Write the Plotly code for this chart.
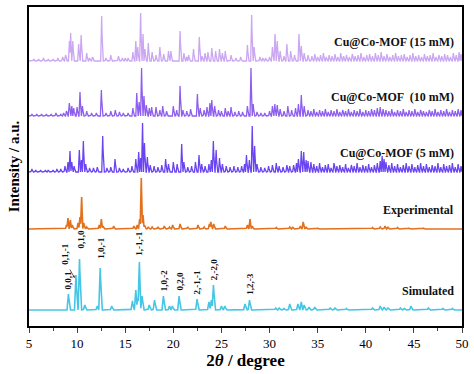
import numpy as np
import plotly.graph_objects as go

# ---------------- data ----------------
# peak positions (2theta, degree) and heights (a.u., px-scale) for each pattern
sim_pos = [9.1, 9.88, 10.25, 10.8, 12.1, 12.4, 13.6, 15.75, 16.1, 16.3, 16.47, 16.75, 17.5, 18.05,
           18.97, 19.6, 19.9, 20.6, 22.47, 23.7, 23.95, 24.17, 25.0, 25.35, 27.45, 27.92, 30.65,
           31.0, 31.5, 32.1, 32.95, 33.3, 33.6, 34.1, 34.7, 36.3, 36.8, 38.0, 40.7, 41.5, 41.9,
           42.3, 43.6, 44.0, 44.7, 46.5, 48.0, 49.0]
sim_h = [16, 35, 51, 5, 4, 42, 4, 9, 20, 12, 48, 14, 5, 10,
         14, 4, 4, 14, 11, 8, 10, 25, 4, 4, 6, 10, 2,
         2, 1.5, 6, 6, 8, 5, 3, 3, 2, 2, 1.5, 2, 4, 3,
         2, 2, 1.5, 4, 2, 1.5, 1.5]

exp_pos = [8.9, 9.05, 9.3, 9.5, 10.1, 10.3, 10.47, 10.7, 11.0, 12.3, 12.52, 12.7, 13.8, 15.9,
           16.25, 16.5, 16.67, 16.85, 17.0, 17.4, 17.8, 18.4, 19.06, 19.6, 19.93, 20.7, 21.5,
           22.56, 23.2, 23.75, 23.9, 24.2, 25.4, 27.7, 27.97, 28.2, 30.7, 32.1, 32.4, 33.2,
           33.5, 33.8, 35.0, 40.7, 41.5, 42.0, 42.3, 43.3, 44.5, 46.0]
exp_h = [4, 11, 9, 4, 6, 12, 32, 6, 2, 4, 10, 3, 3, 3,
         4, 10, 51, 14, 4, 2, 2, 2, 3, 2, 4, 5, 2,
         4, 2, 5, 7, 5, 3, 4, 10, 3, 1.5, 2, 2, 3,
         7, 2, 1, 1.5, 2, 3, 2, 1.5, 1, 1]

mof5_pos = [5.3, 5.7, 6.2, 6.7, 7.0, 7.5, 7.9, 8.3, 8.74, 9.05, 9.26, 9.45, 9.7, 10.23, 10.45,
            10.65, 10.9, 11.3, 11.7, 12.1, 12.66, 13.1, 13.5, 13.94, 14.4, 14.8, 15.3, 15.7,
            16.1, 16.4, 16.6, 16.8, 17.0, 17.3, 17.6, 18.0, 18.4, 18.8, 19.2, 19.5, 20.0,
            20.4, 20.87, 21.1, 21.5, 21.9, 22.3, 22.67, 22.95, 23.3, 23.7, 23.95, 24.16,
            24.45, 24.8, 25.1, 25.5, 25.9, 26.3, 26.7, 27.1, 27.4, 27.6, 27.9, 28.2, 28.45,
            28.7, 29.1, 29.5, 29.9, 30.3, 30.7, 31.0, 31.4, 31.8, 32.1, 32.5, 32.8, 33.0,
            33.3, 33.55, 33.8, 34.0, 34.3, 34.6, 34.9, 35.2, 35.5, 35.8, 36.1, 36.4, 36.7,
            37.0, 37.3, 37.6, 37.9, 38.2, 38.5, 38.8, 39.1, 39.4, 39.7, 40.0, 40.3, 40.6,
            40.9, 41.2, 41.5, 41.7, 41.9, 42.1, 42.4, 42.7, 43.0, 43.3, 43.6, 43.9, 44.2,
            44.5, 44.8, 45.1, 45.4, 45.7, 46.0, 46.3, 46.6, 46.9, 47.2, 47.5, 47.8, 48.1,
            48.4, 48.7, 49.0, 49.3, 49.6, 49.9]
mof5_h = [3, 2, 2, 2, 2, 2, 3, 3, 6, 10, 21, 10, 6, 22, 12,
          31, 8, 4, 4, 5, 36, 4, 5, 13, 4, 3, 4, 6,
          13, 20, 14, 49, 29, 15, 7, 6, 5, 7, 13, 8, 10,
          8, 28, 10, 5, 6, 10, 17, 8, 6, 8, 12, 31,
          22, 14, 8, 6, 5, 6, 5, 6, 8, 17, 12, 46, 26,
          8, 5, 4, 6, 7, 9, 6, 5, 7, 6, 7, 9, 13,
          21, 20, 12, 11, 10, 8, 6, 9, 5, 7, 8, 4, 9,
          6, 7, 5, 8, 4, 7, 6, 9, 5, 7, 6, 8, 5,
          7, 9, 11, 16, 13, 10, 7, 9, 6, 8, 5, 7, 9,
          6, 8, 5, 7, 9, 6, 8, 5, 7, 6, 9, 5, 8,
          6, 7, 9, 5, 8, 6]

mof10_pos = [5.3, 5.8, 6.3, 6.8, 7.3, 7.8, 8.3, 8.6, 8.9, 9.19, 9.45, 9.65, 10.0, 10.3, 10.55,
             11.0, 11.5, 12.0, 12.52, 13.0, 13.5, 13.97, 14.4, 14.8, 15.3, 15.8, 16.2, 16.45,
             16.7, 16.95, 17.2, 17.5, 17.75, 18.2, 18.6, 18.9, 19.3, 20.0, 20.35, 20.7, 21.0,
             21.4, 21.8, 22.5, 22.8, 23.2, 23.5, 23.8, 24.0, 24.3, 24.7, 25.0, 25.4, 25.7,
             26.0, 26.4, 26.8, 27.2, 27.7, 28.07, 28.3, 28.7, 29.1, 29.5, 30.0, 30.3, 30.55,
             30.8, 31.1, 31.5, 31.9, 32.3, 32.7, 33.0, 33.3, 33.6, 34.0, 34.3, 34.6, 34.9,
             35.2, 35.5, 35.8, 36.1, 36.4, 36.7, 37.0, 37.3, 37.6, 37.9, 38.2, 38.5, 38.8,
             39.1, 39.4, 39.7, 40.0, 40.3, 40.6, 40.9, 41.2, 41.5, 41.8, 42.1, 42.4, 42.7,
             43.0, 43.3, 43.6, 43.9, 44.2, 44.5, 44.8, 45.1, 45.4, 45.7, 46.0, 46.3, 46.6,
             46.9, 47.2, 47.5, 47.8, 48.1, 48.4, 48.7, 49.0, 49.3, 49.6, 49.9]
mof10_h = [2, 2, 2, 2, 2, 3, 2, 3, 5, 13, 10, 8, 9, 24, 10,
           5, 3, 3, 26, 3, 5, 6, 4, 3, 3, 8, 23, 14,
           48, 20, 11, 8, 9, 9, 6, 10, 5, 10, 6, 30, 6,
           5, 7, 22, 8, 6, 9, 13, 16, 10, 6, 5, 8, 5,
           9, 4, 5, 4, 10, 48, 12, 4, 3, 3, 5, 10, 12,
           11, 7, 5, 10, 6, 8, 12, 21, 10, 6, 5, 7, 4,
           6, 5, 7, 4, 6, 5, 7, 4, 6, 5, 7, 4, 6,
           5, 7, 4, 6, 5, 7, 6, 8, 9, 7, 6, 5, 7,
           4, 6, 5, 7, 4, 6, 5, 7, 4, 6, 5, 4, 6,
           5, 7, 4, 6, 5, 7, 4, 6, 5, 7, 6]

mof15_pos = [5.5, 6.0, 6.5, 7.0, 7.5, 8.0, 8.5, 8.8, 9.2, 9.33, 9.55, 10.16, 10.42, 11.0, 11.3,
             11.6, 12.55, 13.0, 13.5, 14.3, 14.7, 15.0, 15.3, 15.8, 16.1, 16.3, 16.6, 16.85,
             17.05, 17.4, 17.8, 18.2, 18.6, 19.0, 19.5, 19.75, 20.7, 21.1, 21.4, 21.6, 22.1,
             22.7, 23.0, 23.3, 23.6, 24.0, 24.4, 24.8, 25.1, 25.4, 26.0, 26.5, 27.0, 27.7,
             28.14, 28.4, 29.0, 29.3, 29.6, 30.0, 30.3, 30.57, 30.8, 31.1, 31.5, 31.8, 32.2,
             32.6, 33.06, 33.3, 33.6, 34.0, 34.4, 34.7, 35.0, 35.3, 35.6, 35.9, 36.2, 36.5,
             36.8, 37.1, 37.4, 37.7, 38.0, 38.3, 38.6, 38.9, 39.2, 39.5, 39.8, 40.1, 40.4,
             40.7, 41.0, 41.3, 41.6, 41.9, 42.2, 42.5, 42.8, 43.1, 43.4, 43.7, 44.0, 44.3,
             44.6, 44.9, 45.2, 45.5, 45.8, 46.1, 46.4, 46.7, 47.0, 47.3, 47.6, 47.9, 48.2,
             48.5, 48.8, 49.1, 49.4, 49.7, 49.9]
mof15_h = [2, 2, 3, 2, 2, 3, 4, 6, 20, 28, 20, 17, 26, 8, 3,
           4, 45, 3, 6, 5, 3, 3, 3, 9, 20, 14, 48, 27,
           12, 18, 9, 6, 14, 7, 10, 10, 30, 8, 4, 6, 12,
           24, 5, 8, 9, 13, 10, 12, 8, 10, 6, 3, 4, 16,
           46, 14, 4, 3, 3, 4, 14, 27, 20, 10, 5, 17, 10,
           6, 27, 15, 8, 6, 5, 7, 4, 6, 8, 4, 6, 5,
           7, 4, 8, 5, 6, 4, 7, 5, 6, 8, 4, 6, 7,
           5, 8, 6, 9, 5, 7, 4, 6, 8, 5, 6, 7, 4,
           6, 8, 5, 6, 4, 7, 5, 6, 8, 4, 6, 5, 7,
           6, 4, 8, 6, 9, 7]

series_names = ["Simulated", "Experimental", "Cu@Co-MOF (5 mM)", "Cu@Co-MOF  (10 mM)", "Cu@Co-MOF (15 mM)"]
series_offsets = [16, 97, 154, 210, 265]
series_colors = ["#45C6E6", "#E2701C", "#6A44F2", "#8E5FEE", "#CBA6F2"]

hkl_labels = ["0,0,1", "0,1,-1", "0,1,0", "1,0,-1", "1,-1,-1", "1,0,-2", "0,2,0", "2,-1,-1", "2,-2,0", "1,2,-3"]
hkl_x = [9.05, 8.67, 10.4, 12.4, 16.4, 19.0, 20.6, 22.5, 24.2, 27.9]
hkl_y = [35, 59, 76, 65, 68, 33, 33, 30, 44, 29]

x_ticks = [5, 10, 15, 20, 25, 30, 35, 40, 45, 50]

# ---------------- build figure ----------------
def profile(pos, h, w):
    xs = np.union1d(np.arange(5.0, 50.0001, 0.01), np.array(pos))
    ys = np.zeros_like(xs)
    for p, a in zip(pos, h):
        ys = np.maximum(ys, a * np.clip(1 - np.abs(xs - p) / w, 0, None))
    return xs, ys

patterns = [(sim_pos, sim_h, 0.15, 1.6), (exp_pos, exp_h, 0.12, 1.6),
            (mof5_pos, mof5_h, 0.1, 1.3), (mof10_pos, mof10_h, 0.1, 1.3),
            (mof15_pos, mof15_h, 0.1, 1.3)]

fig = go.Figure()
for (pos, h, w, lw), name, off, col in zip(patterns, series_names, series_offsets, series_colors):
    xs, ys = profile(pos, h, w)
    fig.add_trace(go.Scatter(x=xs, y=ys + off, mode="lines", line=dict(color=col, width=lw),
                             name=name, showlegend=False, hoverinfo="skip"))

font_fam = "Liberation Serif, Times New Roman, serif"
ann = []
for name, off in zip(series_names, series_offsets):
    ann.append(dict(x=49.4, y=off + 19, xref="x", yref="y", text="<b>%s</b>" % name,
                    showarrow=False, xanchor="right", yanchor="middle",
                    font=dict(family=font_fam, size=12, color="#111")))
for t, x, y in zip(hkl_labels, hkl_x, hkl_y):
    ann.append(dict(x=x, y=y, xref="x", yref="y", text="<b>%s</b>" % t, textangle=-90,
                    showarrow=False, xanchor="center", yanchor="bottom",
                    font=dict(family=font_fam, size=9, color="#111")))
# pointer from the 0,1,-1 label to its peak
ann.append(dict(x=9.75, y=48, ax=9.15, ay=58, xref="x", yref="y", axref="x", ayref="y",
                text="", showarrow=True, arrowhead=2, arrowsize=0.6, arrowwidth=0.8,
                arrowcolor="#333"))

fig.update_layout(
    width=474, height=374, margin=dict(l=29, r=12, t=7, b=48, autoexpand=False),
    paper_bgcolor="white", plot_bgcolor="white",
    annotations=ann,
    xaxis=dict(range=[5, 50], tickvals=x_ticks, ticks="outside", ticklen=5, tickwidth=1.3,
               showline=True, linecolor="black", linewidth=1.5, mirror=True, showgrid=False,
               zeroline=False, automargin=False,
               minor=dict(ticks="outside", dtick=2.5, tick0=5, ticklen=3, tickwidth=1.2),
               tickfont=dict(family=font_fam, size=13, color="black"),
               title=dict(text="<b>2<i>θ</i> / degree</b>", standoff=2,
                          font=dict(family=font_fam, size=17, color="black"))),
    yaxis=dict(range=[0, 319], showticklabels=False, ticks="", showline=True, linecolor="black",
               linewidth=1.5, mirror=True, showgrid=False, zeroline=False, automargin=False,
               title=dict(text="<b>Intensity / a.u.</b>", standoff=4,
                          font=dict(family=font_fam, size=15, color="black"))),
)

fig.write_html("out.html", config={"displayModeBar": False},
               post_script="document.body.style.margin='0';document.body.style.overflow='hidden';")
